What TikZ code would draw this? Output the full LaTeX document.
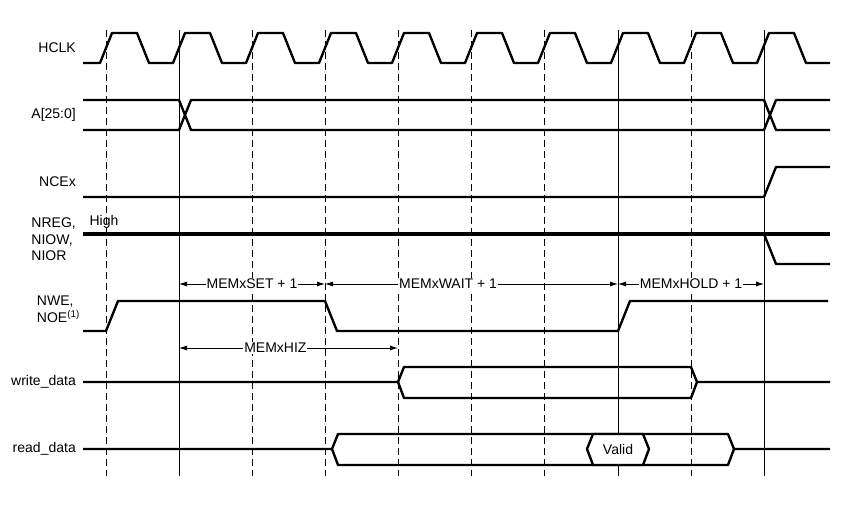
\documentclass[tikz,border=0pt]{standalone}
\usepackage{fontspec}
\setmainfont{Liberation Sans}
\usetikzlibrary{arrows.meta}
\begin{document}
\begin{tikzpicture}[x=1pt,y=-1pt,
  sig/.style={line width=2.4pt,line join=round},
  grid/.style={line width=0.8pt},
  gridd/.style={line width=0.8pt,dash pattern=on 7pt off 4pt},
  lbl/.style={anchor=east,font=\fontsize{14}{16.5}\selectfont,inner sep=0pt},
  meas/.style={line width=0.8pt,{Latex[length=8pt,width=5pt]}-{Latex[length=8pt,width=5pt]}},
  mtxt/.style={fill=white,font=\fontsize{14}{16}\selectfont,inner sep=1pt}]
\useasboundingbox (0,0) rectangle (863,506);
% grid lines
\foreach \x in {106,252,325,398,471,544,691}{\draw[gridd] (\x,30) -- (\x,476);}
\foreach \x in {179,618,764}{\draw[grid] (\x,30) -- (\x,476);}
% labels
\node[lbl] (lhclk) at (76,48) {HCLK};
\node[lbl] (la) at (76,115) {A[25:0]};
\node[lbl] (lnce) at (76,182) {NCEx};
\node[lbl,align=left,anchor=north east] (lnreg) at (76,218) {NREG,\\NIOW,\\NIOR};
\node[lbl,align=left,anchor=north east] (lnwe) at (80,296) {NWE,\\NOE\textsuperscript{(1)}};
\node[lbl] (lwd) at (76,382) {write\_data};
\node[lbl] (lrd) at (76,449) {read\_data};
\node[font=\fontsize{14}{16}\selectfont,inner sep=0pt] (high) at (104,222) {High};
% HCLK
\draw[sig] (83,63)
  \foreach \k in {0,...,9}{ -- ({100+73*\k},63) -- ({112+73*\k},33) -- ({137+73*\k},33) -- ({149+73*\k},63)} -- (830,63);
% A[25:0]
\draw[sig] (83,100) -- (179,100) -- (191,130) -- (764,130) -- (776,100) -- (830,100);
\draw[sig] (83,130) -- (179,130) -- (191,100) -- (764,100) -- (776,130) -- (830,130);
% NCEx
\draw[sig] (83,197) -- (764,197) -- (776,167) -- (830,167);
% NREG
\draw[line width=4pt] (83,234) -- (830,234);
\draw[sig] (764,234) -- (776,264) -- (830,264);
% NWE
\draw[sig] (83,331) -- (106,331) -- (118,301) -- (325,301) -- (337,331) -- (618,331) -- (630,301) -- (828,301);
% write_data
\draw[sig] (83,382) -- (398,382) -- (404,367) -- (691,367) -- (697,382) -- (830,382);
\draw[sig] (398,382) -- (404,398) -- (691,398) -- (697,382);
% read_data
\draw[sig] (83,449) -- (332,449) -- (338,434) -- (728,434) -- (734,449) -- (830,449);
\draw[sig] (332,449) -- (338,465) -- (728,465) -- (734,449);
\draw[sig,fill=white] (587,449) -- (593,434) -- (643,434) -- (649,449) -- (643,465) -- (593,465) -- cycle;
\node[font=\fontsize{14}{16}\selectfont] (valid) at (618,449) {Valid};
% measurements
\coordinate (s1) at (179,284); \coordinate (s2) at (325,284);
\coordinate (s3) at (618,284); \coordinate (s4) at (764,284);
\coordinate (h1) at (179,348); \coordinate (h2) at (398,348);
\draw[meas] (s1) -- (s2) node[mtxt,midway] (tset) {MEMxSET + 1};
\draw[meas] (s2) -- (s3) node[mtxt,pos=0.42] (twait) {MEMxWAIT + 1};
\draw[meas] (s3) -- (s4) node[mtxt,midway] (thold) {MEMxHOLD + 1};
\draw[meas] (h1) -- (h2) node[mtxt,pos=0.44] (thiz) {MEMxHIZ};
\end{tikzpicture}
\end{document}
